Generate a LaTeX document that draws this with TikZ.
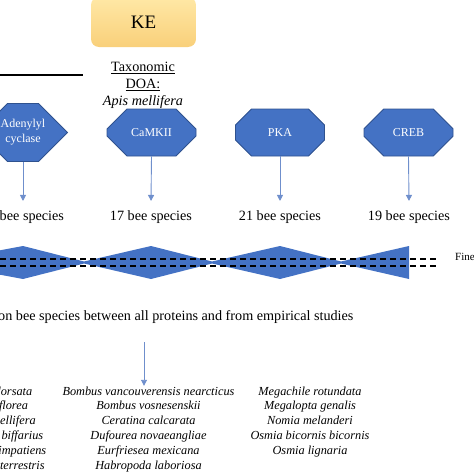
\documentclass[tikz,border=0pt]{standalone}
\usepackage{fontspec}
\setmainfont{Liberation Serif}
\usetikzlibrary{positioning,shapes.misc,arrows.meta}
\definecolor{octblue}{HTML}{4472C4}
\definecolor{octedge}{HTML}{2F528F}
\definecolor{arrblue}{HTML}{6F8FCC}
\definecolor{kelight}{HTML}{FFE8A6}
\definecolor{kedark}{HTML}{F9D07A}

\begin{document}
\begin{tikzpicture}[x=1pt,y=-1pt,node distance=8pt]
  \tikzstyle{oct} = [chamfered rectangle, draw=octedge, fill=octblue, line width=0.8pt, text=white, minimum width=89pt, minimum height=47pt, chamfered rectangle xsep=15pt, chamfered rectangle ysep=16pt, align=center, inner sep=0pt, font=\fontsize{12}{15}\selectfont]
  \tikzstyle{count} = [font=\fontsize{14.2}{17}\selectfont, text height=10pt, text depth=3pt]
  \tikzstyle{arr} = [draw=arrblue, line width=0.9pt, -{Triangle[width=6pt,length=6pt]}]
  \tikzstyle{sp} = [font=\fontsize{12.3}{14.8}\itshape, text height=9pt, text depth=3pt, inner sep=0pt]

  \useasboundingbox (0,0) rectangle (474,474);
  \clip (0,0) rectangle (474,474);

  % top
  \node[rounded corners=8pt, top color=kelight, bottom color=kedark, minimum width=105pt, minimum height=50pt, font=\fontsize{19}{22}\selectfont] (ke) at (143.5,22) {KE};
  \node[align=center, font=\fontsize{14.2}{17}\selectfont] (doa) at (143,85) {\underline{Taxonomic}\\\underline{DOA:}\\\textit{Apis mellifera}};
  \coordinate (barL) at (-10,75);
  \coordinate (barR) at (83,75);
  \draw[line width=1.4pt] (barL) -- (barR);

  % proteins
  \node[oct] (adc) at (23,132.5) {Adenylyl\\cyclase};
  \node[oct] (camk) at (151.5,132.5) {CaMKII};
  \node[oct] (pka) at (280,132.5) {PKA};
  \node[oct] (creb) at (408.5,132.5) {CREB};

  \node[count] (adcn) at (23,217) {20 bee species};
  \node[count] (camkn) at (151,217) {17 bee species};
  \node[count] (pkan) at (280,217) {21 bee species};
  \node[count] (crebn) at (409,217) {19 bee species};

  \draw[arr] (adc.south) -- ([yshift=6pt]adcn.north);
  \draw[arr] (camk.south) -- ([yshift=6pt]camkn.north);
  \draw[arr] (pka.south) -- ([yshift=6pt]pkan.north);
  \draw[arr] (creb.south) -- ([yshift=6pt]crebn.north);

  % band
  \fill[octblue] (-60,261.5) -- (23,246) -- (84,261.5) -- (151,246) -- (212,261.5) -- (280,246) -- (341,261.5) -- (409,246)
    -- (409,279) -- (341,263.5) -- (280,279) -- (212,263.5) -- (151,279) -- (84,263.5) -- (23,279) -- (-60,263.5) -- cycle;
  \coordinate (dashL) at (0,259);
  \coordinate (dashR) at (436,259);
  \draw[line width=1.3pt, dash pattern=on 6pt off 4pt] (dashL) -- (dashR);
  \draw[line width=1.3pt, dash pattern=on 6pt off 4pt] ([yshift=-7pt]dashL) -- ([yshift=-7pt]dashR);
  \node[anchor=west, font=\fontsize{11}{13}\selectfont, inner sep=0pt] (fine) at (455,257) {Fine scale};

  % common species
  \node[anchor=east, font=\fontsize{14.2}{17}\selectfont] (common) at (357,317) {Common bee species between all proteins and from empirical studies};
  \coordinate (split) at (144,342);

  \foreach \name [count=\i] in {Apis dorsata, Apis florea, Apis mellifera, Bombus biffarius, Bombus impatiens, Bombus terrestris}
    \node[sp] (left\i) at (1,{392+14.8*(\i-1)}) {\name};
  \foreach \name [count=\i] in {Bombus vancouverensis nearcticus, Bombus vosnesenskii, Ceratina calcarata, Dufourea novaeangliae, Eurfriesea mexicana, Habropoda laboriosa}
    \node[sp] (mid\i) at (148.5,{392+14.8*(\i-1)}) {\name};
  \foreach \name [count=\i] in {Megachile rotundata, Megalopta genalis, Nomia melanderi, Osmia bicornis bicornis, Osmia lignaria}
    \node[sp] (right\i) at (310,{392+14.8*(\i-1)}) {\name};

  \draw[arr] (split) -- (split |- mid1.north);
\end{tikzpicture}
\end{document}
